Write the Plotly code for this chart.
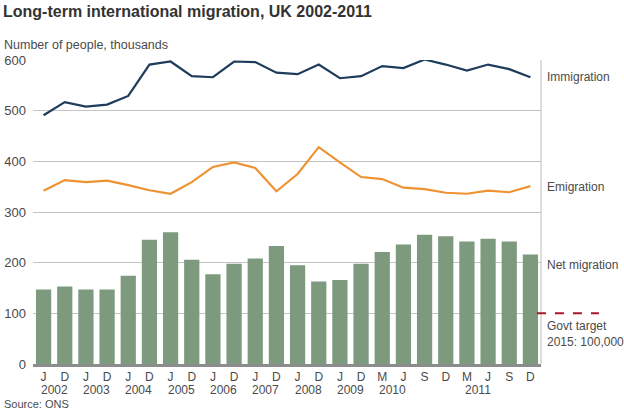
import plotly.graph_objects as go

# periods (year ending), month letter shown on axis
months = ["J", "D"] * 8 + ["M", "J", "S", "D"] * 2
years = ["2002", "2003", "2004", "2005", "2006", "2007", "2008", "2009", "2010", "2011"]
year_at = [0, 2, 4, 6, 8, 10, 12, 14, 16, 20]  # index of first of the two months each year sits under

immigration = [491, 517, 508, 512, 529, 591, 597, 568, 566, 597, 596, 575,
               572, 591, 564, 568, 588, 584, 601, 591, 579, 591, 582, 566]
emigration = [342, 363, 359, 362, 353, 343, 336, 359, 389, 398, 387, 341,
              375, 428, 398, 369, 365, 348, 345, 338, 336, 342, 339, 351]
net_migration = [147, 153, 147, 147, 174, 245, 260, 206, 177, 198, 208, 233,
                 195, 163, 166, 198, 221, 236, 255, 252, 242, 247, 242, 216]
govt_target = 100

idx = list(range(len(months)))
TEXT = "#4a4a4a"
FONT = "Liberation Sans, Arial, sans-serif"

fig = go.Figure()
fig.add_trace(go.Bar(x=idx, y=net_migration, marker_color="#7d9a7e",
                     marker_line_width=0, width=0.72, name="Net migration"))
fig.add_trace(go.Scatter(x=idx, y=emigration, mode="lines",
                         line=dict(color="#ef9231", width=2.2), name="Emigration"))
fig.add_trace(go.Scatter(x=idx, y=immigration, mode="lines",
                         line=dict(color="#1e3d5c", width=2.2), name="Immigration"))

# page-pixel positions converted to paper coords (plot area 33..541 x 60..364)
ann = [
    dict(text="<b>Long-term international migration, UK 2002-2011</b>", x=2, y=11,
         font=dict(size=16, color="#333333")),
    dict(text="Number of people, thousands", x=3, y=45, font=dict(size=12.5, color=TEXT)),
    dict(text="Source: ONS", x=3, y=404, font=dict(size=11, color=TEXT)),
]
for a in ann:
    a.update(xref="paper", yref="paper", xanchor="left", yanchor="middle",
             showarrow=False, borderpad=0)
    a["x"] = (a["x"] - 33) / 508
    a["y"] = (364 - a["y"]) / 304

for lab, yv in [("Immigration", 566), ("Emigration", 349), ("Net migration", 195)]:
    ann.append(dict(text=lab, xref="paper", yref="y", x=1.008, y=yv, xanchor="left",
                    yanchor="middle", showarrow=False, font=dict(size=12, color=TEXT)))
ann.append(dict(text="Govt target<br>2015: 100,000", xref="paper", yref="y", x=1.008,
                y=govt_target, yshift=-4, xanchor="left", yanchor="top", align="left",
                showarrow=False, font=dict(size=12, color=TEXT)))

for pos, yr in zip(year_at, years):
    ann.append(dict(text=yr, xref="x", yref="paper", x=pos + 0.5, y=0, yshift=-26,
                    xanchor="center", yanchor="middle", showarrow=False, borderpad=0,
                    font=dict(size=12, color=TEXT)))

fig.update_layout(
    width=624, height=410,
    margin=dict(l=33, r=83, t=60, b=46),
    paper_bgcolor="white", plot_bgcolor="white",
    font=dict(family=FONT, size=12, color=TEXT),
    showlegend=False,
    annotations=ann,
    shapes=[
        dict(type="line", xref="paper", yref="paper", x0=1, x1=1, y0=0, y1=1,
             line=dict(color="#bdbdbd", width=1)),
        dict(type="line", xref="paper", yref="y", x0=0.992, x1=1.114,
             y0=govt_target, y1=govt_target,
             line=dict(color="#a8172b", width=2, dash="dash")),
    ],
)
fig.update_xaxes(range=[-0.5, 23.5], tickvals=idx, ticktext=months, showgrid=False,
                 showline=True, linecolor="#8c8c8c", linewidth=3, ticks="",
                 ticklabelstandoff=0, tickfont=dict(size=12, color=TEXT),
                 zeroline=False, automargin=False)
fig.update_yaxes(range=[0, 600], tickvals=[0, 100, 200, 300, 400, 500, 600],
                 showgrid=True, gridcolor="#c4c4c4", gridwidth=1, zeroline=False,
                 ticks="", ticklabelstandoff=6, automargin=False,
                 tickfont=dict(size=13, color=TEXT))

# drop the browser's default body margin so the 624x410 figure fills the window
fig.write_html("out.html", config={"displayModeBar": False},
               post_script="document.body.style.margin='0';")
